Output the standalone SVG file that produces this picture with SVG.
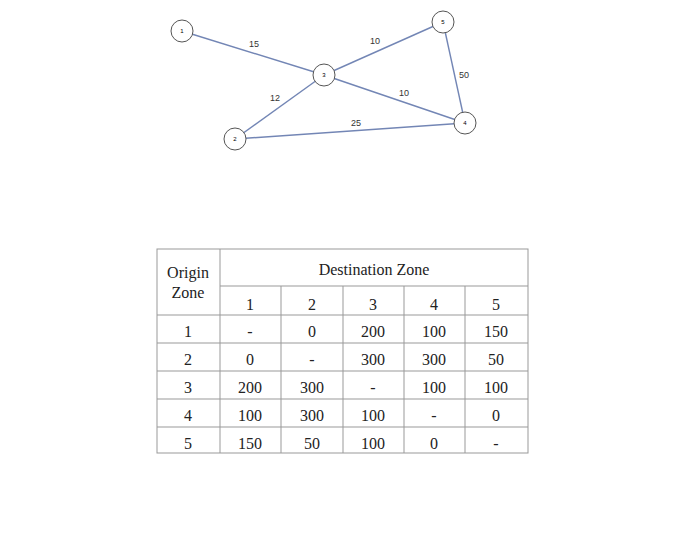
<svg xmlns="http://www.w3.org/2000/svg" width="700" height="560" viewBox="0 0 700 560">
<style>
.e{stroke:#7386b5;stroke-width:1.4;fill:none}
.n circle{fill:#fff;stroke:#555;stroke-width:1}
.n text{font-family:"Liberation Sans",sans-serif;font-size:6px;text-anchor:middle}
.el{font-family:"Liberation Sans",sans-serif;font-size:9px;fill:#333}
.g{stroke:#999;stroke-width:1;fill:none}
.t{font-family:"Liberation Serif",serif;font-size:16px;text-anchor:middle;fill:#222}
</style>
<rect width="700" height="560" fill="#fff"/>
<g id="connectors">
<line class="e" x1="182" y1="31" x2="324" y2="75"/>
<line class="e" x1="324" y1="75" x2="443" y2="22"/>
<line class="e" x1="324" y1="75" x2="465" y2="123"/>
<line class="e" x1="324" y1="75" x2="235" y2="139"/>
<line class="e" x1="443" y1="22" x2="465" y2="123"/>
<line class="e" x1="235" y1="139" x2="465" y2="123"/>
<text class="el" x="249" y="47">15</text>
<text class="el" x="370" y="44">10</text>
<text class="el" x="459" y="78">50</text>
<text class="el" x="399" y="96">10</text>
<text class="el" x="270" y="101">12</text>
<text class="el" x="351" y="126">25</text>
</g>
<g id="node1" class="n"><circle cx="182" cy="31" r="11"/><text x="182" y="33">1</text></g>
<g id="node2" class="n"><circle cx="235" cy="139" r="11"/><text x="235" y="141">2</text></g>
<g id="node3" class="n"><circle cx="324" cy="75" r="11"/><text x="324" y="77">3</text></g>
<g id="node4" class="n"><circle cx="465" cy="123" r="11"/><text x="465" y="125">4</text></g>
<g id="node5" class="n"><circle cx="443" cy="22" r="11"/><text x="443" y="24">5</text></g>
<g id="table">
<rect class="g" x="157" y="249" width="371" height="204"/>
<line class="g" x1="220" y1="249" x2="220" y2="453"/>
<line class="g" x1="220" y1="286" x2="528" y2="286"/>
<line class="g" x1="281" y1="286" x2="281" y2="453"/>
<line class="g" x1="343" y1="286" x2="343" y2="453"/>
<line class="g" x1="404" y1="286" x2="404" y2="453"/>
<line class="g" x1="465" y1="286" x2="465" y2="453"/>
<line class="g" x1="157" y1="315" x2="528" y2="315"/>
<line class="g" x1="157" y1="343" x2="528" y2="343"/>
<line class="g" x1="157" y1="371" x2="528" y2="371"/>
<line class="g" x1="157" y1="399" x2="528" y2="399"/>
<line class="g" x1="157" y1="427" x2="528" y2="427"/>
<text class="t" x="188" y="278">Origin</text>
<text class="t" x="188" y="298">Zone</text>
<text class="t" x="374" y="275">Destination Zone</text>
<g class="t">
<text class="t" x="250" y="310">1</text><text class="t" x="312" y="310">2</text><text class="t" x="373" y="310">3</text><text class="t" x="434" y="310">4</text><text class="t" x="496" y="310">5</text>
<text class="t" x="188" y="337">1</text><text class="t" x="250" y="337">-</text><text class="t" x="312" y="337">0</text><text class="t" x="373" y="337">200</text><text class="t" x="434" y="337">100</text><text class="t" x="496" y="337">150</text>
<text class="t" x="188" y="365">2</text><text class="t" x="250" y="365">0</text><text class="t" x="312" y="365">-</text><text class="t" x="373" y="365">300</text><text class="t" x="434" y="365">300</text><text class="t" x="496" y="365">50</text>
<text class="t" x="188" y="393">3</text><text class="t" x="250" y="393">200</text><text class="t" x="312" y="393">300</text><text class="t" x="373" y="393">-</text><text class="t" x="434" y="393">100</text><text class="t" x="496" y="393">100</text>
<text class="t" x="188" y="421">4</text><text class="t" x="250" y="421">100</text><text class="t" x="312" y="421">300</text><text class="t" x="373" y="421">100</text><text class="t" x="434" y="421">-</text><text class="t" x="496" y="421">0</text>
<text class="t" x="188" y="449">5</text><text class="t" x="250" y="449">150</text><text class="t" x="312" y="449">50</text><text class="t" x="373" y="449">100</text><text class="t" x="434" y="449">0</text><text class="t" x="496" y="449">-</text>
</g>
</g>
</svg>
